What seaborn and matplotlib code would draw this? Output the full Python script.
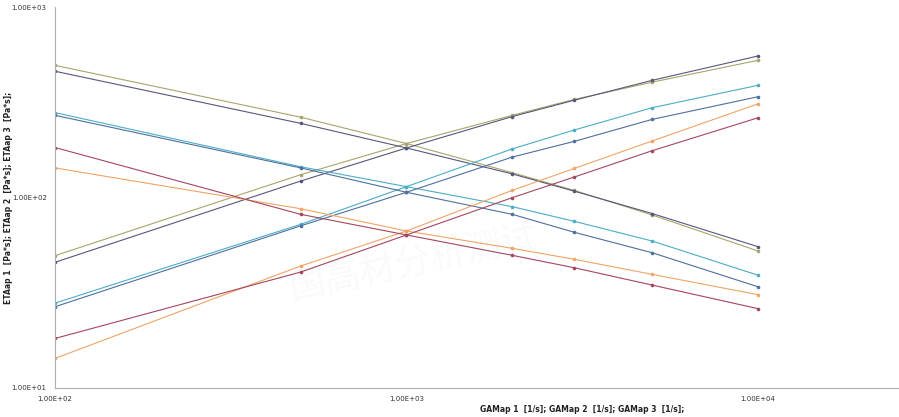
import numpy as np
import pandas as pd
import matplotlib
matplotlib.use("Agg")
import matplotlib.pyplot as plt
import matplotlib.ticker as mticker
import seaborn as sns

# ---- data ----
gam = [100, 500, 1000, 2000, 3000, 5000, 10000]

eta_A = [494, 264, 192, 135, 109, 81, 52.4]
eta_B = [460, 245, 182, 133, 108, 82.4, 55.2]
eta_C = [279, 145, 114, 89.5, 75, 59.1, 39.1]
eta_D = [270, 143, 106.5, 81.6, 65.7, 51.3, 34.0]
eta_E = [143, 87.3, 66.7, 54.1, 47.4, 39.5, 30.9]
eta_F = [183, 81.6, 63.6, 49.7, 42.8, 34.7, 26.1]

sig_A = [49.5, 131.7, 192, 270, 327, 403, 525]
sig_B = [45.7, 122, 182, 266, 324, 412, 553]
sig_C = [27.9, 72.3, 114, 180, 226, 296, 388]
sig_D = [26.7, 71, 106.5, 163, 197, 257, 338]
sig_E = [14.3, 43.7, 66.7, 109, 142, 198, 310]
sig_F = [18.2, 40.6, 63.6, 99.8, 128, 176, 262]

samples = ["A", "B", "C", "D", "E", "F"]
eta_all = [eta_A, eta_B, eta_C, eta_D, eta_E, eta_F]
sig_all = [sig_A, sig_B, sig_C, sig_D, sig_E, sig_F]
colors = ["#a8a46a", "#57577c", "#4bacc6", "#4f6f9f", "#f0a466", "#a4475e"]

xlabel = "GAMap 1  [1/s]; GAMap 2  [1/s]; GAMap 3  [1/s];"
ylabel = "ETAap 1  [Pa*s]; ETAap 2  [Pa*s]; ETAap 3  [Pa*s];"

rows = []
for s, e, g in zip(samples, eta_all, sig_all):
    for xv, v in zip(gam, e):
        rows.append(dict(sample=s, kind="eta", x=xv, y=v))
    for xv, v in zip(gam, g):
        rows.append(dict(sample=s, kind="sig", x=xv, y=v))
df = pd.DataFrame(rows)

sns.set_style("white")
fig = plt.figure(figsize=(8.99, 4.17), dpi=100)
ax = fig.add_axes([55 / 899, 1 - 388 / 417, 1 - 55 / 899, (388 - 7) / 417])

for s, c in zip(samples, colors):
    for k in ["eta", "sig"]:
        sub = df[(df["sample"] == s) & (df["kind"] == k)]
        sns.lineplot(data=sub, x="x", y="y", ax=ax, color=c, lw=0.8,
                     marker="o", markersize=2.6, markeredgewidth=0,
                     legend=False, sort=False)

ax.set_xscale("log")
ax.set_yscale("log")
ax.set_xlim(100, 2.52e4)
ax.set_ylim(10, 1000)

fmt = mticker.FuncFormatter(lambda v, p: f"{v:.2E}")
ax.xaxis.set_major_formatter(fmt)
ax.yaxis.set_major_formatter(fmt)
ax.xaxis.set_minor_formatter(mticker.NullFormatter())
ax.yaxis.set_minor_formatter(mticker.NullFormatter())
ax.xaxis.set_major_locator(mticker.LogLocator(base=10, numticks=10))
ax.yaxis.set_major_locator(mticker.LogLocator(base=10, numticks=10))
ax.xaxis.set_minor_locator(mticker.LogLocator(base=10, subs=np.arange(2, 10), numticks=20))
ax.yaxis.set_minor_locator(mticker.LogLocator(base=10, subs=np.arange(2, 10), numticks=20))

ax.tick_params(which="major", direction="inout", length=6, width=0.6,
               color="#9a9a9a", labelsize=5, labelcolor="#333333", pad=3)
ax.tick_params(which="minor", direction="in", length=3, width=0.5, color="#b0b0b0")

for side in ["top", "right"]:
    ax.spines[side].set_visible(False)
for side in ["left", "bottom"]:
    ax.spines[side].set_color("#b0b0b0")
    ax.spines[side].set_linewidth(0.8)

ax.set_xlabel("")
ax.set_ylabel("")
fig.text(582 / 899, 1 - 410 / 417, xlabel, ha="center", va="center",
         fontsize=5.5, fontweight="bold", color="#222222")
fig.text(9 / 899, 1 - 198 / 417, ylabel, ha="center", va="center",
         rotation=90, fontsize=5.5, fontweight="bold", color="#222222")

# faint watermark
fig.text(0.46, 0.37, "国高材分析测试", fontsize=26, color="#5a7fb0", alpha=0.04,
         rotation=12, ha="center", va="center",
         family=["Noto Sans CJK SC", "DejaVu Sans"])

fig.savefig("out.png", dpi=100, facecolor="white")
